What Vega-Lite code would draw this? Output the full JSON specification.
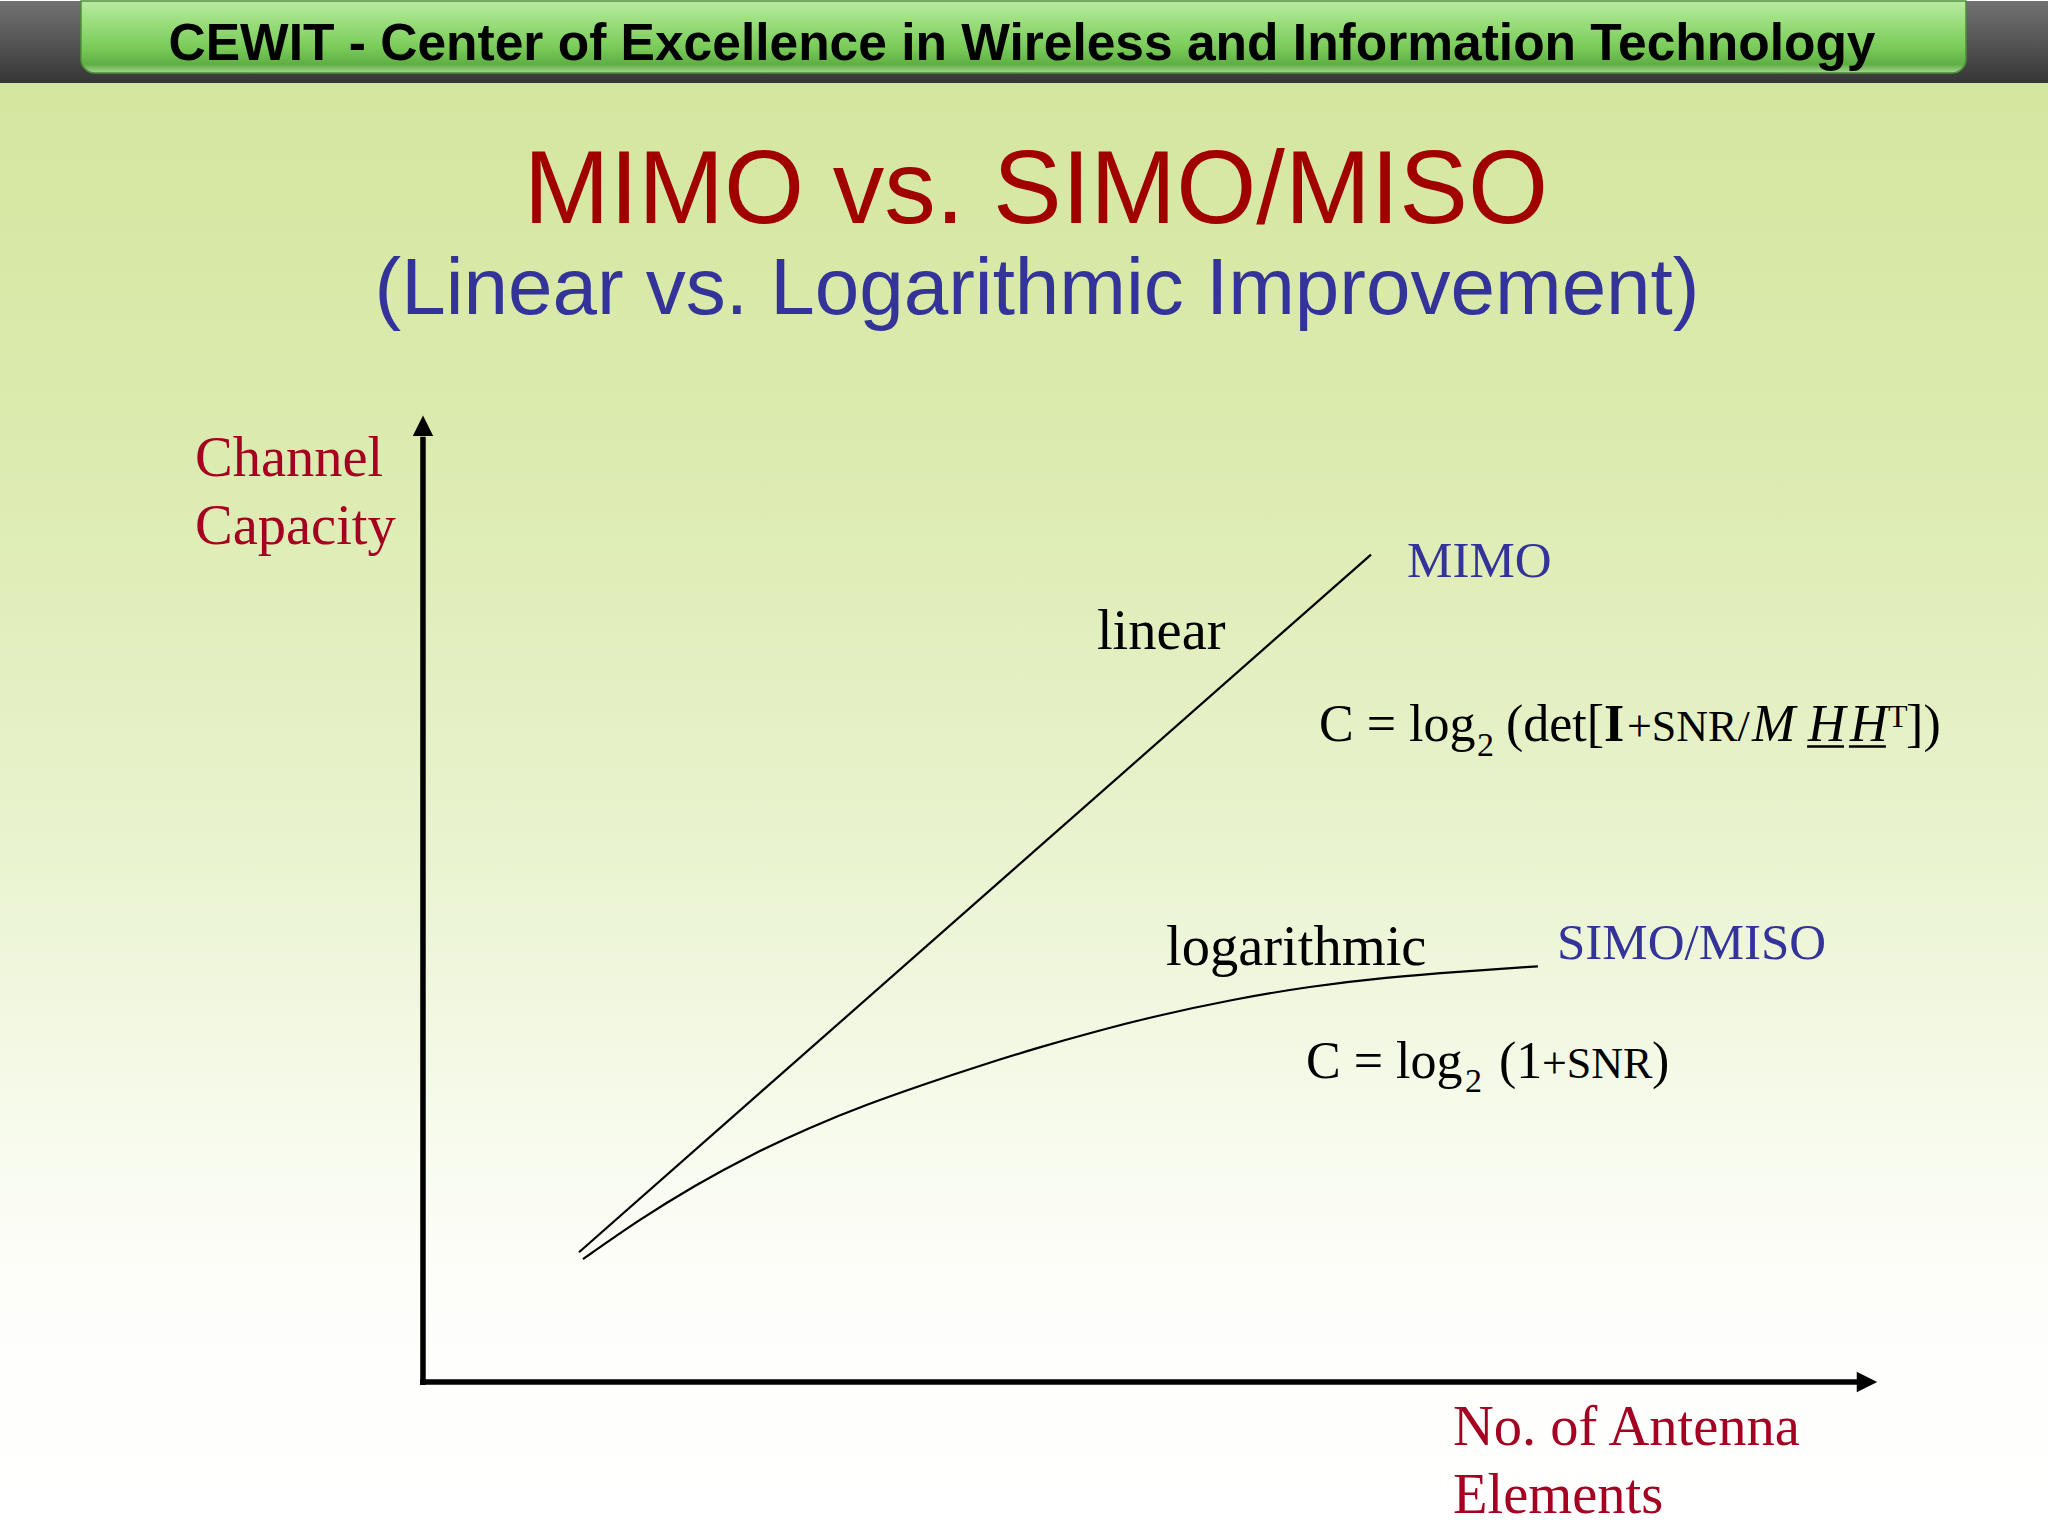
{
  "$schema": "https://vega.github.io/schema/vega-lite/v6.json",
  "width": 2048,
  "height": 1534,
  "padding": 0,
  "autosize": {"type": "fit", "contains": "padding"},
  "background": "#ffffff",
  "view": {
    "stroke": null,
    "fill": {
      "gradient": "linear", "x1": 0, "y1": 0, "x2": 0, "y2": 1,
      "stops": [
        {"offset": 0, "color": "#d2e69b"},
        {"offset": 0.3, "color": "#dcebb0"},
        {"offset": 0.55, "color": "#e9f3cf"},
        {"offset": 0.72, "color": "#f6faea"},
        {"offset": 0.84, "color": "#fdfefa"},
        {"offset": 1, "color": "#ffffff"}
      ]
    }
  },
  "datasets": {
    "headerBar": [{"x": -2.909, "x2": 11.176, "y": 13.444, "y2": 14.292}],
    "headerButton": [{"x": -2.352, "x2": 10.612, "y": 13.547, "y2": 14.292}],
    "headerText": [{"x": 4.12, "y": 13.681, "t": "CEWIT - Center of Excellence in Wireless and Information Technology"}],
    "title": [{"x": 4.216, "y": 11.996, "t": "MIMO vs. SIMO/MISO"}],
    "subtitle": [{"x": 4.223, "y": 11.055, "t": "(Linear vs. Logarithmic Improvement)"}],
    "axes": [
      {"x": 0, "y": -0.03, "x2": 0, "y2": 9.783},
      {"x": -0.02, "y": 0, "x2": 9.869, "y2": 0}
    ],
    "arrowUp": [{"x": 0, "y": 9.897}],
    "arrowRight": [{"x": 9.931, "y": 0}],
    "mimo": [
      {"x": 1.073, "y": 1.344},
      {"x": 6.52, "y": 8.563}
    ],
    "simo": [
      {"x": 1.1, "y": 1.272},
      {"x": 1.492, "y": 1.686},
      {"x": 1.871, "y": 2.037},
      {"x": 2.263, "y": 2.358},
      {"x": 2.662, "y": 2.637},
      {"x": 3.054, "y": 2.875},
      {"x": 3.446, "y": 3.082},
      {"x": 3.838, "y": 3.278},
      {"x": 4.237, "y": 3.464},
      {"x": 4.629, "y": 3.63},
      {"x": 5.028, "y": 3.785},
      {"x": 5.571, "y": 3.961},
      {"x": 6.1, "y": 4.095},
      {"x": 6.623, "y": 4.188},
      {"x": 7.146, "y": 4.25},
      {"x": 7.668, "y": 4.302}
    ],
    "axisLabels": [
      {"x": -1.568, "y": 9.38, "t": "Channel"},
      {"x": -1.568, "y": 8.676, "t": "Capacity"},
      {"x": 7.084, "y": -0.651, "t": "No. of Antenna"},
      {"x": 7.084, "y": -1.355, "t": "Elements"}
    ],
    "seriesLabels": [
      {"x": 6.768, "y": 8.335, "t": "MIMO"},
      {"x": 7.799, "y": 4.374, "t": "SIMO/MISO"}
    ],
    "notes": [
      {"x": 4.635, "y": 7.59, "t": "linear"},
      {"x": 5.11, "y": 4.312, "t": "logarithmic"}
    ],
    "formulaMain": [
      {"x": 6.162, "y": 6.639, "t": "C = log"},
      {"x": 7.448, "y": 6.639, "t": "(det["},
      {"x": 10.2, "y": 6.639, "t": "])"},
      {"x": 6.073, "y": 3.144, "t": "C = log"},
      {"x": 7.4, "y": 3.144, "t": "(1"},
      {"x": 8.453, "y": 3.144, "t": ")"}
    ],
    "formulaSub": [
      {"x": 7.249, "y": 6.484, "t": "2"},
      {"x": 7.167, "y": 2.999, "t": "2"}
    ],
    "formulaSup": [
      {"x": 10.076, "y": 6.784, "t": "T"}
    ],
    "formulaBold": [
      {"x": 8.123, "y": 6.639, "t": "I"}
    ],
    "formulaItalic": [
      {"x": 9.141, "y": 6.639, "t": "M"},
      {"x": 9.526, "y": 6.639, "t": "H"},
      {"x": 9.814, "y": 6.639, "t": "H"}
    ],
    "formulaSmall": [
      {"x": 8.281, "y": 6.639, "t": "+SNR/"},
      {"x": 7.696, "y": 3.144, "t": "+SNR"}
    ],
    "underlines": [
      {"x": 9.519, "x2": 9.773, "y": 6.577, "y2": 6.577},
      {"x": 9.807, "x2": 10.061, "y": 6.577, "y2": 6.577}
    ]
  },
  "encoding": {
    "x": {"field": "x", "type": "quantitative", "axis": null,
      "scale": {"domain": [-2.909, 11.176], "nice": false, "zero": false}},
    "y": {"field": "y", "type": "quantitative", "axis": null,
      "scale": {"domain": [-1.572, 14.292], "nice": false, "zero": false}}
  },
  "layer": [
    {
      "data": {"name": "headerBar"},
      "mark": {"type": "rect", "fill": {
        "gradient": "linear", "x1": 0, "y1": 0, "x2": 0, "y2": 1,
        "stops": [
          {"offset": 0, "color": "#727272"},
          {"offset": 0.5, "color": "#555555"},
          {"offset": 1, "color": "#363636"}
        ]}},
      "encoding": {"x2": {"field": "x2"}, "y2": {"field": "y2"}}
    },
    {
      "data": {"name": "headerButton"},
      "mark": {"type": "rect", "cornerRadiusBottomLeft": 14, "cornerRadiusBottomRight": 14,
        "stroke": "#4f8f3a", "strokeWidth": 1.5,
        "fill": {
        "gradient": "linear", "x1": 0, "y1": 0, "x2": 0, "y2": 1,
        "stops": [
          {"offset": 0, "color": "#b9eaa2"},
          {"offset": 0.3, "color": "#9ade7c"},
          {"offset": 0.65, "color": "#79cb59"},
          {"offset": 0.88, "color": "#5fae44"},
          {"offset": 1, "color": "#a4d892"}
        ]}},
      "encoding": {"x2": {"field": "x2"}, "y2": {"field": "y2"}}
    },
    {
      "data": {"name": "headerText"},
      "mark": {"type": "text", "font": "Liberation Sans", "fontWeight": "bold", "fontSize": 51.5,
        "align": "center", "baseline": "alphabetic", "color": "#000000"},
      "encoding": {"text": {"field": "t"}}
    },
    {
      "data": {"name": "title"},
      "mark": {"type": "text", "font": "Liberation Sans", "fontSize": 103,
        "align": "center", "baseline": "alphabetic", "color": "#a00000"},
      "encoding": {"text": {"field": "t"}}
    },
    {
      "data": {"name": "subtitle"},
      "mark": {"type": "text", "font": "Liberation Sans", "fontSize": 80,
        "align": "center", "baseline": "alphabetic", "color": "#333399"},
      "encoding": {"text": {"field": "t"}}
    },
    {
      "data": {"name": "axes"},
      "mark": {"type": "rule", "color": "#000000", "strokeWidth": 5.5},
      "encoding": {"x2": {"field": "x2"}, "y2": {"field": "y2"}}
    },
    {
      "data": {"name": "arrowUp"},
      "mark": {"type": "point", "shape": "M0,-1L1,1L-1,1Z", "size": 420,
        "filled": true, "color": "#000000", "opacity": 1}
    },
    {
      "data": {"name": "arrowRight"},
      "mark": {"type": "point", "shape": "M1,0L-1,-1L-1,1Z", "size": 420,
        "filled": true, "color": "#000000", "opacity": 1}
    },
    {
      "data": {"name": "mimo"},
      "mark": {"type": "line", "color": "#000000", "strokeWidth": 2.2}
    },
    {
      "data": {"name": "simo"},
      "mark": {"type": "line", "color": "#000000", "strokeWidth": 2.2, "interpolate": "basis"}
    },
    {
      "data": {"name": "axisLabels"},
      "mark": {"type": "text", "font": "Liberation Serif", "fontSize": 56.5,
        "align": "left", "baseline": "alphabetic", "color": "#a50021"},
      "encoding": {"text": {"field": "t"}}
    },
    {
      "data": {"name": "seriesLabels"},
      "mark": {"type": "text", "font": "Liberation Serif", "fontSize": 51,
        "align": "left", "baseline": "alphabetic", "color": "#333399"},
      "encoding": {"text": {"field": "t"}}
    },
    {
      "data": {"name": "notes"},
      "mark": {"type": "text", "font": "Liberation Serif", "fontSize": 56.5,
        "align": "left", "baseline": "alphabetic", "color": "#000000"},
      "encoding": {"text": {"field": "t"}}
    },
    {
      "data": {"name": "formulaMain"},
      "mark": {"type": "text", "font": "Liberation Serif", "fontSize": 52,
        "align": "left", "baseline": "alphabetic", "color": "#000000"},
      "encoding": {"text": {"field": "t"}}
    },
    {
      "data": {"name": "formulaSub"},
      "mark": {"type": "text", "font": "Liberation Serif", "fontSize": 34,
        "align": "left", "baseline": "alphabetic", "color": "#000000"},
      "encoding": {"text": {"field": "t"}}
    },
    {
      "data": {"name": "formulaSup"},
      "mark": {"type": "text", "font": "Liberation Serif", "fontSize": 32,
        "align": "left", "baseline": "alphabetic", "color": "#000000"},
      "encoding": {"text": {"field": "t"}}
    },
    {
      "data": {"name": "formulaBold"},
      "mark": {"type": "text", "font": "Liberation Serif", "fontSize": 52, "fontWeight": "bold",
        "align": "left", "baseline": "alphabetic", "color": "#000000"},
      "encoding": {"text": {"field": "t"}}
    },
    {
      "data": {"name": "formulaItalic"},
      "mark": {"type": "text", "font": "Liberation Serif", "fontSize": 52, "fontStyle": "italic",
        "align": "left", "baseline": "alphabetic", "color": "#000000"},
      "encoding": {"text": {"field": "t"}}
    },
    {
      "data": {"name": "formulaSmall"},
      "mark": {"type": "text", "font": "Liberation Serif", "fontSize": 44,
        "align": "left", "baseline": "alphabetic", "color": "#000000"},
      "encoding": {"text": {"field": "t"}}
    },
    {
      "data": {"name": "underlines"},
      "mark": {"type": "rule", "color": "#000000", "strokeWidth": 2.5},
      "encoding": {"x2": {"field": "x2"}, "y2": {"field": "y2"}}
    }
  ]
}
